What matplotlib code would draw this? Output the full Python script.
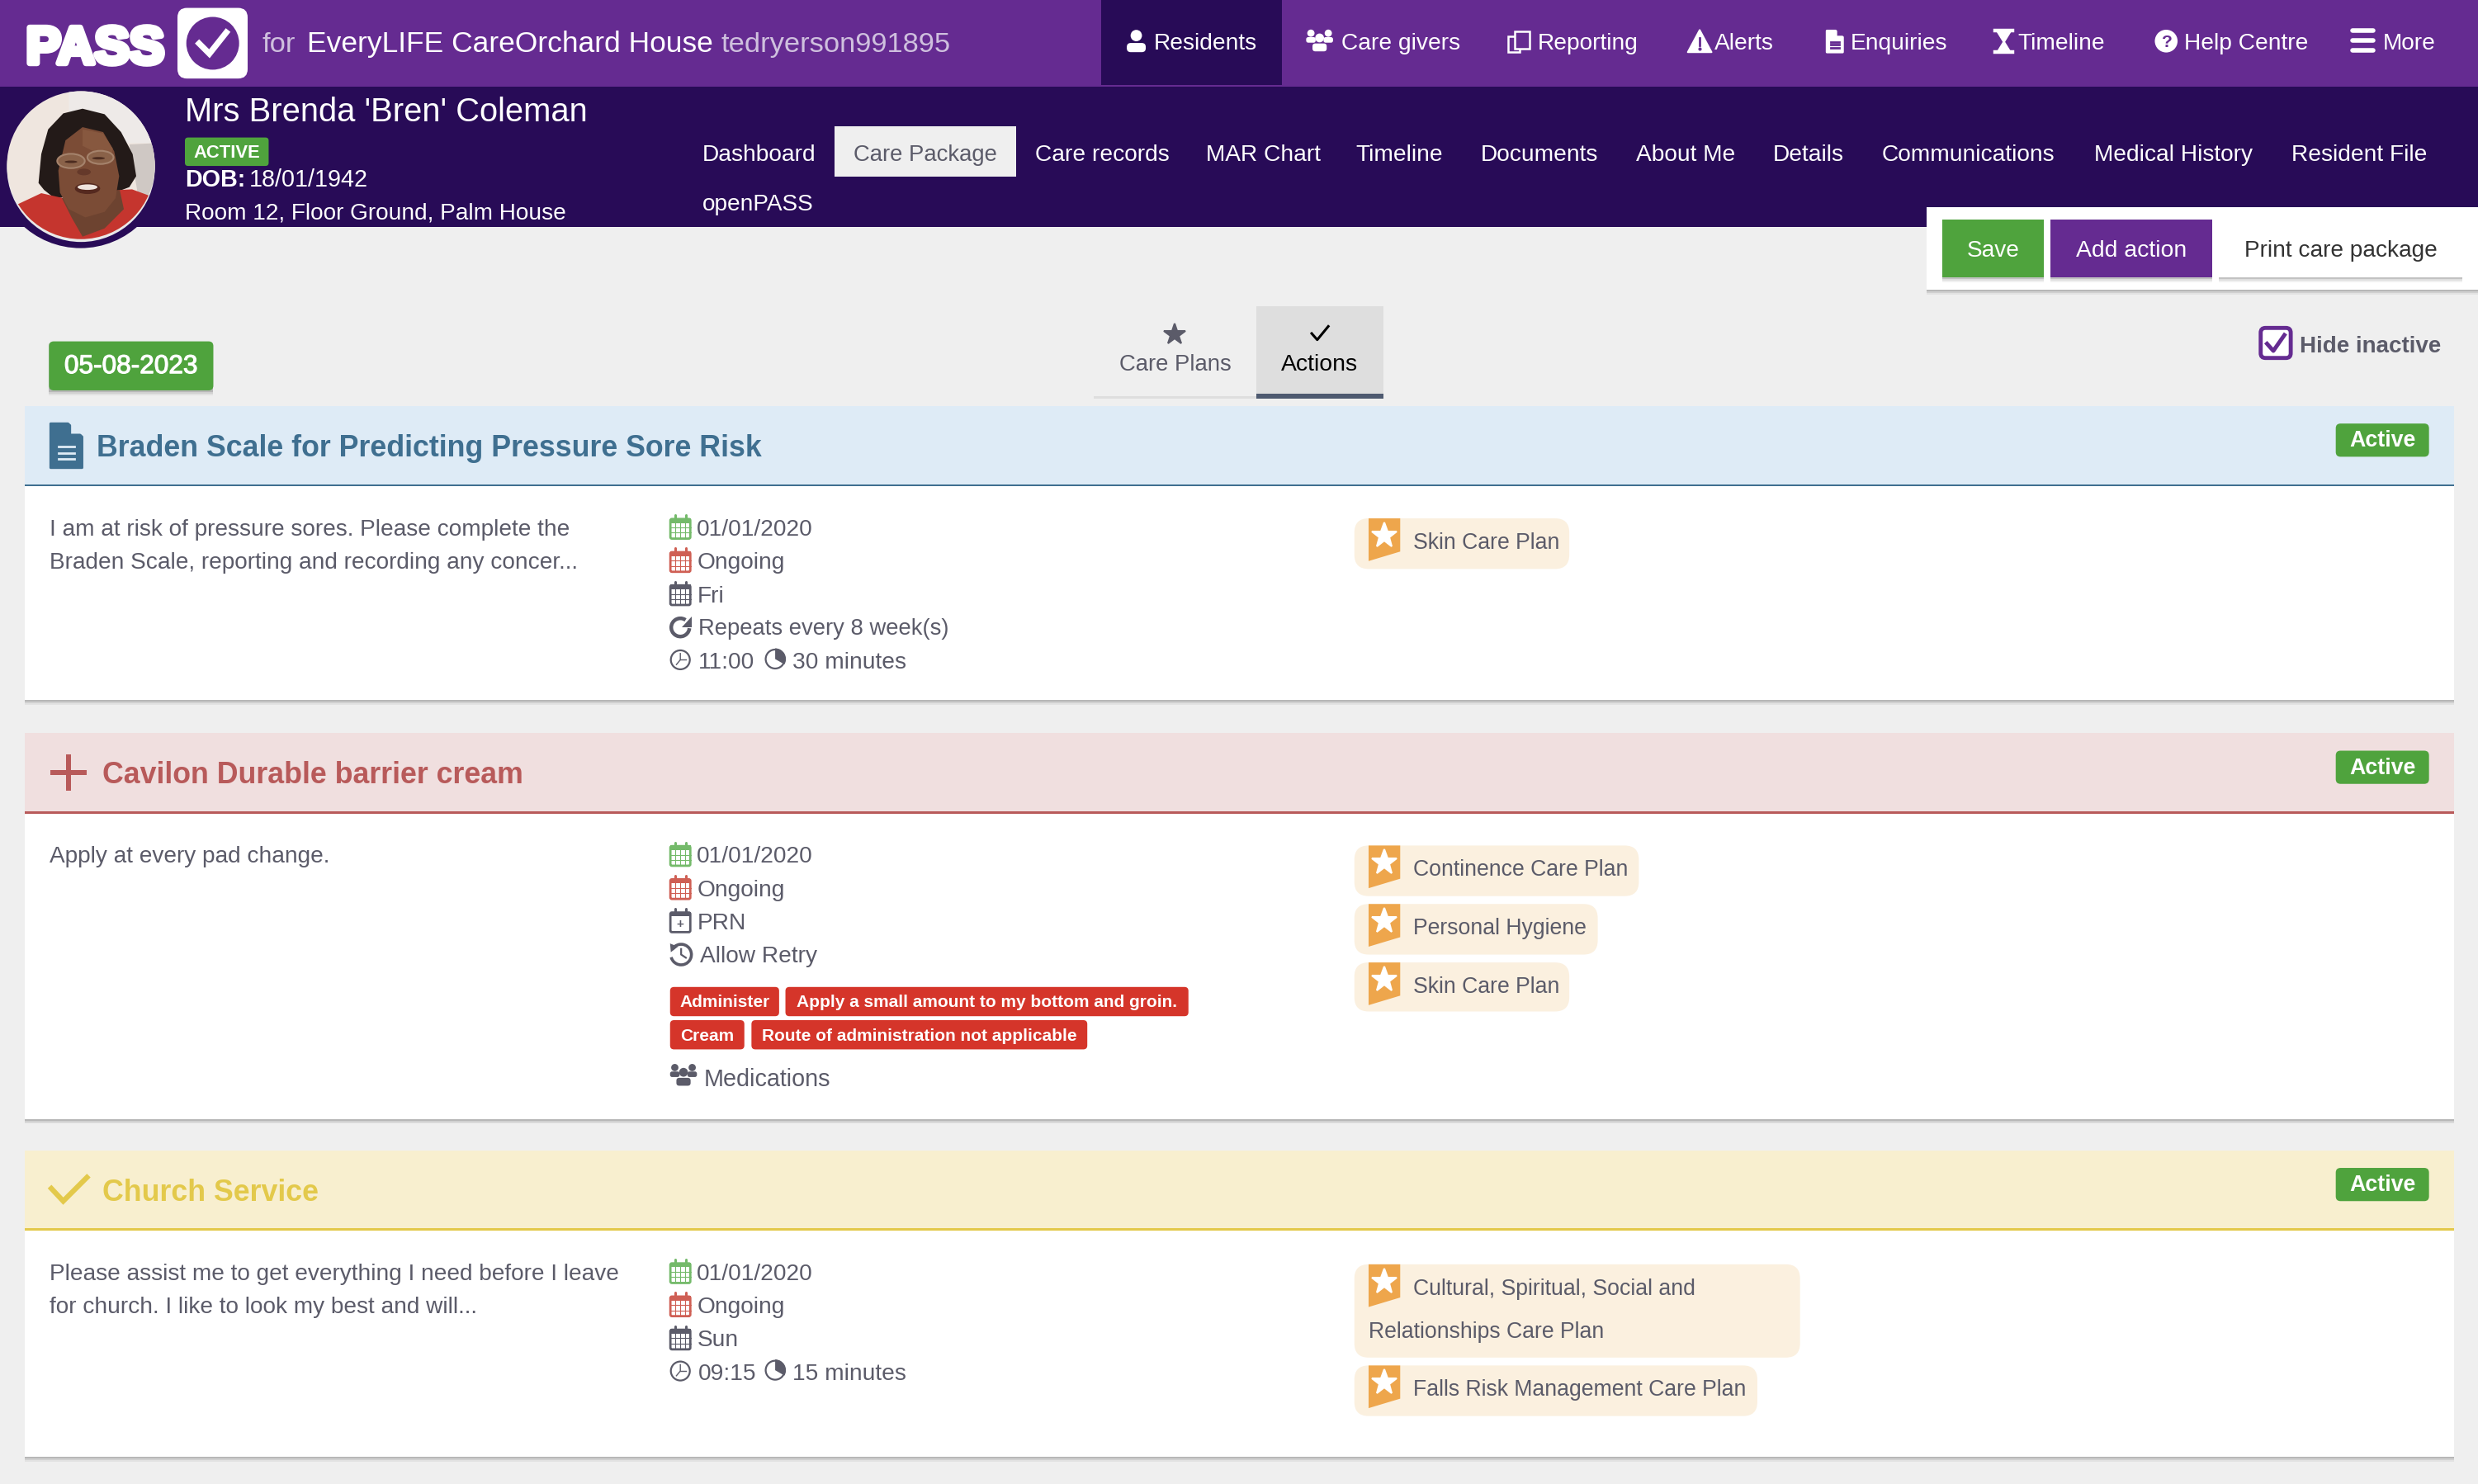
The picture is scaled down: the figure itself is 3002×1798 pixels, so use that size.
import matplotlib
matplotlib.use("Agg")
import matplotlib.pyplot as plt
from matplotlib.patches import Rectangle, FancyBboxPatch, Circle, Ellipse, Polygon, Wedge, Arc
import matplotlib.patheffects as pe

plt.rcParams['font.family'] = ['Liberation Sans', 'DejaVu Sans']

W, H = 1568, 939
S = 3002 / 1568

PURPLE = '#652b91'
DARK = '#280b57'
BG = '#efefef'
GREEN = '#4fa33d'
GREY = '#5b5b69'
RED = '#d5352a'
ORANGE = '#eea64c'
CREAM = '#fbf0df'

top_labels = ['Residents', 'Care givers', 'Reporting', 'Alerts', 'Enquiries', 'Timeline', 'Help Centre', 'More']
top_x = [730, 849, 973, 1085, 1171, 1277, 1382, 1508]
sub_labels = ['Dashboard', 'Care Package', 'Care records', 'MAR Chart', 'Timeline', 'Documents',
              'About Me', 'Details', 'Communications', 'Medical History', 'Resident File']
sub_x = [444.5, 540, 655, 763, 858, 937, 1035, 1122, 1190.5, 1325, 1450]

card_titles = ['Braden Scale for Predicting Pressure Sore Risk', 'Cavilon Durable barrier cream', 'Church Service']
card_title_x = [61, 65, 65]
card_tops = [257, 464, 728]
card_bottoms = [443, 708, 922]
card_fills = ['#deebf6', '#f0dfdf', '#f8efcf']
card_inks = ['#3f6f90', '#b85a5a', '#e3c94b']

body_lines = [
    ['I am at risk of pressure sores. Please complete the', 'Braden Scale, reporting and recording any concer...'],
    ['Apply at every pad change.'],
    ['Please assist me to get everything I need before I leave', 'for church. I like to look my best and will...'],
]
meta_rows = [
    ['01/01/2020', 'Ongoing', 'Fri', 'Repeats every 8 week(s)', '11:00'],
    ['01/01/2020', 'Ongoing', 'PRN', 'Allow Retry'],
    ['01/01/2020', 'Ongoing', 'Sun', '09:15'],
]
durations = ['30 minutes', None, '15 minutes']

plan_labels = [
    [['Skin Care Plan']],
    [['Continence Care Plan'], ['Personal Hygiene'], ['Skin Care Plan']],
    [['Cultural, Spiritual, Social and', 'Relationships Care Plan'], ['Falls Risk Management Care Plan']],
]
plan_boxes = [
    [(857, 993, 328, 360)],
    [(857, 1037, 535, 567), (857, 1011, 572, 604), (857, 993, 609, 640)],
    [(857, 1139, 800, 859), (857, 1112, 864, 896)],
]
tag_labels = ['Administer', 'Apply a small amount to my bottom and groin.', 'Cream', 'Route of administration not applicable']
tag_boxes = [(424, 493, 624.5, 643), (497, 752, 624.5, 643), (424, 471, 645.5, 664), (475.5, 688, 645.5, 664)]

fig = plt.figure(figsize=(30.02, 17.98), dpi=100)
ax = fig.add_axes([0, 0, 1, 1])
ax.set_xlim(0, W)
ax.set_ylim(H, 0)
ax.axis('off')
fig.patch.set_facecolor(BG)


def txt(x, yc, s, px=14.65, color=GREY, weight='normal', ha='left', z=5, **kw):
    # yc is the middle of the capitals, in screen px
    return ax.text(x, yc + 0.36 * px - 0.3, s, fontsize=px * S * 0.72, color=color, fontweight=weight,
                   ha=ha, va='baseline', zorder=z, **kw)


def rect(x0, x1, y0, y1, color, z=1, **kw):
    ax.add_patch(Rectangle((x0, y0), x1 - x0, y1 - y0, facecolor=color, edgecolor='none', zorder=z, **kw))


def rrect(x0, x1, y0, y1, color, r=3, z=2, **kw):
    ax.add_patch(FancyBboxPatch((x0 + r, y0 + r), x1 - x0 - 2 * r, y1 - y0 - 2 * r,
                                boxstyle=f'round,pad={r},rounding_size={r}',
                                facecolor=color, edgecolor='none', zorder=z, **kw))


def shadow(x0, x1, y0, y1, z=1):
    for off, a in [(3, 0.08), (2, 0.12), (1, 0.2)]:
        rect(x0, x1, y0 + off, y1 + off, '#555555', z=z, alpha=a)


def calendar(x, yc, color, grid=True):
    ax.add_patch(FancyBboxPatch((x + 0.5, yc - 4.8), 12, 11.8, boxstyle='round,pad=0.3,rounding_size=1',
                                facecolor='white', edgecolor=color, linewidth=2, zorder=4))
    rect(x, x + 13, yc - 5.5, yc - 2.6, color, z=4)
    ax.plot([x + 3.2, x + 3.2], [yc - 7.5, yc - 4.5], color=color, lw=2.2, zorder=4, solid_capstyle='round')
    ax.plot([x + 9.8, x + 9.8], [yc - 7.5, yc - 4.5], color=color, lw=2.2, zorder=4, solid_capstyle='round')
    if grid:
        for i in range(1, 4):
            ax.plot([x + i * 3.25] * 2, [yc - 3, yc + 7], color=color, lw=0.8, zorder=4)
        for j in range(1, 3):
            ax.plot([x, x + 13], [yc - 3 + j * 3.3] * 2, color=color, lw=0.8, zorder=4)


def clock(x, yc, filled=False):
    if filled:
        ax.add_patch(Circle((x, yc), 6, facecolor='white', edgecolor=GREY, linewidth=1.6, zorder=4))
        ax.add_patch(Wedge((x, yc), 6.8, -90, 30, facecolor=GREY, edgecolor='none', zorder=4))
    else:
        ax.add_patch(Circle((x, yc), 6, facecolor='white', edgecolor=GREY, linewidth=1.6, zorder=4))
        ax.plot([x, x, x - 2.5], [yc - 4, yc, yc + 3], color=GREY, lw=1, zorder=4)
        ax.plot([x, x + 3.5], [yc, yc], color=GREY, lw=1, zorder=4)


def star(x, yc, size, color, z=6):
    ax.plot([x], [yc], marker='*', markersize=size * S, color=color, markeredgecolor=color,
            markeredgewidth=1.5, linestyle='none', zorder=z)


def people(x, yc, color):
    # three heads with shoulders
    for dx, dy, r in [(-5.5, -4.5, 2.3), (5.5, -4.5, 2.3), (0, -1.5, 2.8)]:
        ax.add_patch(Circle((x + dx, yc + dy), r, facecolor=color, edgecolor='none', zorder=6))
    rrect(x - 8.5, x - 2.5, yc - 2, yc + 1.5, color, r=1.3, z=6)
    rrect(x + 2.5, x + 8.5, yc - 2, yc + 1.5, color, r=1.3, z=6)
    rrect(x - 4.5, x + 4.5, yc + 2, yc + 7, color, r=1.8, z=6)


def person(x, yc, color):
    ax.add_patch(Circle((x, yc - 3.5), 3.6, facecolor=color, edgecolor='none', zorder=6))
    rrect(x - 6, x + 6, yc + 1.2, yc + 7, color, r=2.5, z=6)


def doc(x0, x1, y0, y1, color, inner):
    w = x1 - x0
    h = y1 - y0
    ax.add_patch(Polygon([(x0, y0), (x0 + w * 0.55, y0), (x1, y0 + h * 0.3), (x1, y1), (x0, y1)],
                         closed=True, facecolor=color, edgecolor=color, linewidth=2, joinstyle='round', zorder=6))
    ax.add_patch(Polygon([(x0 + w * 0.65, y0 - 0.5), (x1 + 0.5, y0 + h * 0.23), (x0 + w * 0.65, y0 + h * 0.23)],
                         closed=True, facecolor=inner, edgecolor='none', zorder=6))
    for k in (0.52, 0.66, 0.8):
        ax.plot([x0 + w * 0.25, x0 + w * 0.75], [y0 + h * k] * 2, color=inner, lw=2, zorder=7)


def avatar():
    k = 1 / 5.743
    clip = Circle((51.2, 104.5), 46.8, transform=ax.transData)

    def poly(points, color, z=3):
        p = Polygon([(a * k, b * k) for a, b in points], closed=True, facecolor=color, edgecolor='none', zorder=z)
        ax.add_patch(p)
        p.set_clip_path(clip)

    def oval(a, b, wd, ht, color, z=3, edge='none', lw=0, angle=0):
        p = Ellipse((a * k, b * k), wd * k, ht * k, angle=angle, facecolor=color, edgecolor=edge, linewidth=lw, zorder=z)
        ax.add_patch(p)
        p.set_clip_path(clip)

    # ring sits under the bars, so only its lower edge shows
    ax.add_patch(Circle((51, 102.8), 54.2, facecolor=DARK, edgecolor='none', zorder=0.5))
    ax.add_patch(Circle((51.2, 106.3), 46.8, facecolor='#e9e9e9', edgecolor='none', zorder=2.5))
    ax.add_patch(Circle((51.2, 104.5), 46.8, facecolor='#efe6df', edgecolor='none', zorder=2.6))
    poly([(250, 330), (560, 330), (570, 520), (250, 520)], '#eeeae8')
    poly([(470, 525), (570, 520), (570, 720), (500, 700)], '#cfc8c4')
    # hair
    poly([(140, 665), (150, 560), (175, 470), (230, 412), (300, 395), (380, 415), (440, 480), (482, 560), (495, 640),
          (470, 680), (430, 695), (330, 700), (200, 722), (160, 690)], '#231a18')
    # shirt
    poly([(40, 790), (65, 742), (150, 702), (230, 720), (440, 690), (480, 688), (545, 712), (520, 790), (430, 870),
          (160, 870)], '#c5352e')
    # neck and chest
    poly([(225, 720), (435, 690), (450, 760), (380, 830), (300, 860), (260, 790)], '#6d4330')
    # face
    poly([(212, 620), (238, 510), (300, 462), (375, 480), (415, 550), (433, 640), (420, 720), (380, 770), (310, 790),
          (250, 760), (218, 700)], '#7b4c36')
    poly([(300, 470), (375, 485), (410, 540), (400, 580), (300, 530)], '#87583f')
    # glasses, nose, mouth
    oval(258, 585, 100, 52, '#8a6249', edge='#a5836c', lw=1.5)
    oval(365, 572, 95, 48, '#8a6249', edge='#a5836c', lw=1.5)
    oval(258, 588, 46, 9, '#4c2c20')
    oval(358, 575, 46, 9, '#4c2c20')
    oval(305, 625, 50, 24, '#65392a')
    oval(318, 685, 92, 40, '#55291f')
    oval(318, 680, 72, 20, '#efe5de')


# ---- top bars
rect(0, W, 0, 55, PURPLE)
rect(0, W, 55, 143.6, DARK)
rect(697, 811, 0, 54, DARK, z=2)

rrect(112.3, 156.7, 5, 49.7, 'white', r=6)
ax.add_patch(Circle((134.6, 27.4), 16.7, facecolor=PURPLE, edgecolor='none', zorder=3))
ax.plot([126, 132.5, 143.2], [27.5, 34, 20.5], color='white', lw=5.2, solid_joinstyle='miter', zorder=4)
txt(16.5, 28.5, 'PASS', 33, 'white', 'bold', path_effects=[pe.withStroke(linewidth=5, foreground='white')])
txt(166, 26.5, 'for', 18, '#cfc0de')
txt(194.5, 26.5, 'EveryLIFE CareOrchard House', 18.5, 'white')
txt(456, 26.5, 'tedryerson991895', 18, '#cfc0de')

for label, x in zip(top_labels, top_x):
    txt(x, 26.5, label, 14.7, 'white')

# nav icons
person(719, 26, 'white')
people(835, 25.5, 'white')
ax.add_patch(Rectangle((958.5, 20), 9.5, 11, facecolor=PURPLE, edgecolor='white', linewidth=1.8, zorder=6))
ax.add_patch(Rectangle((954.5, 23), 7, 10, facecolor=PURPLE, edgecolor='white', linewidth=1.8, zorder=5))
ax.add_patch(Polygon([(1075.5, 19), (1083, 33), (1068, 33)], closed=True, facecolor='white', edgecolor='white',
                     linewidth=1.5, joinstyle='round', zorder=6))
ax.plot([1075.5, 1075.5], [24, 28.5], color=PURPLE, lw=2, zorder=7)
ax.plot([1075.5], [30.8], marker='o', markersize=2, color=PURPLE, zorder=7)
doc(1156, 1166, 19.5, 33, 'white', PURPLE)
ax.add_patch(Polygon([(1264, 20), (1272, 20), (1264, 33), (1272, 33)], closed=True, facecolor='white',
                     edgecolor='white', linewidth=1.8, zorder=6))
for yy in (19.5, 33):
    ax.plot([1262.5, 1273.5], [yy, yy], color='white', lw=3.2, zorder=6)
ax.add_patch(Circle((1370.7, 26), 7.2, facecolor='white', edgecolor='none', zorder=6))
txt(1370.7, 26, '?', 11, PURPLE, 'bold', ha='center', z=7)
for yy in (19.5, 25.7, 31.8):
    ax.plot([1488.5, 1501.5], [yy, yy], color='white', lw=4, solid_capstyle='round', zorder=6)

# ---- resident header
avatar()
txt(117, 69.5, "Mrs Brenda 'Bren' Coleman", 20.8, 'white')
rrect(117, 170, 87, 105, GREEN, r=2)
txt(143.5, 96, 'ACTIVE', 11.5, 'white', 'bold', ha='center')
txt(117, 113, 'DOB:', 15, 'white', 'bold')
txt(157.5, 113, '18/01/1942', 15, 'white')
txt(117, 133.5, 'Room 12, Floor Ground, Palm House', 14.6, 'white')

rect(528, 643, 80, 112, BG, z=2)
for label, x in zip(sub_labels, sub_x):
    if label == 'Care Package':
        txt(x, 97, label, 14.35, GREY)
    else:
        txt(x, 97, label, 14.7, 'white')
txt(444.5, 128, 'openPASS', 14.6, 'white')

# ---- action panel
shadow(1219, 1568, 131, 183.5, z=2)
rect(1219, 1568, 131, 183.5, 'white', z=3)
for x0, x1, col in [(1229, 1293, GREEN), (1297.5, 1400, PURPLE), (1404, 1558, 'white')]:
    shadow(x0, x1, 139, 175.5, z=3)
    rect(x0, x1, 139, 175.5, col, z=4)
txt(1261, 157.5, 'Save', 14.6, 'white', ha='center')
txt(1348.5, 157.5, 'Add action', 14.8, 'white', ha='center')
txt(1481, 157.5, 'Print care package', 14.6, '#333333', ha='center')

# ---- date + tabs
shadow(31, 135, 216, 247, z=1)
rrect(31, 135, 216, 247, GREEN, r=3)
txt(83, 230.5, '05-08-2023', 16.5, 'white', ha='center', path_effects=[pe.withStroke(linewidth=0.8, foreground='white')])
rect(692, 795, 250.5, 252, '#dedede', z=1)
rect(795, 875.5, 194, 250, '#dedede', z=1)
rect(795, 875.5, 249, 252, '#4e5a70', z=2)
star(743.5, 211.5, 10, GREY)
ax.plot([830, 833.5, 840.5], [211, 215, 206.5], color='black', lw=2.2, zorder=5)
txt(743.5, 229.5, 'Care Plans', 14.4, GREY, ha='center')
txt(835, 229.5, 'Actions', 14.8, 'black', ha='center')
ax.add_patch(FancyBboxPatch((1432, 209), 16, 16, boxstyle='round,pad=1.5,rounding_size=3', facecolor='white',
                            edgecolor=PURPLE, linewidth=3.5, zorder=4))
ax.plot([1434.5, 1438.5, 1445.5], [217.5, 222, 212], color=PURPLE, lw=3.5, zorder=5)
txt(1455, 218, 'Hide inactive', 14.5, GREY, 'bold')

# ---- cards
for i, title in enumerate(card_titles):
    top, bottom = card_tops[i], card_bottoms[i]
    shadow(15.5, 1553, top, bottom, z=1)
    rect(15.5, 1553, top, bottom, 'white', z=2)
    rect(15.5, 1553, top, top + 50, card_fills[i], z=3)
    rect(15.5, 1553, top + 49.3, top + 50.8, card_inks[i], z=3)
    txt(card_title_x[i], top + 25.3, title, 18.7, card_inks[i], 'bold')
    rrect(1478, 1537, top + 11, top + 32, GREEN, r=3, z=4)
    txt(1507.5, top + 21, 'Active', 14, 'white', 'bold', ha='center')

    y0 = top + 77
    for k, line in enumerate(body_lines[i]):
        txt(31.3, y0 + k * 21, line)

    for k, row in enumerate(meta_rows[i]):
        yc = y0 + k * 21
        if k == 0:
            calendar(424, yc - 0.5, '#74ba6a')
        elif k == 1:
            calendar(424, yc - 0.5, '#cf5f54')
        elif row == 'PRN':
            calendar(424, yc - 0.5, GREY, grid=False)
            txt(430.5, yc + 1.5, '+', 8, GREY, 'bold', ha='center')
        elif row in ('Fri', 'Sun'):
            calendar(424, yc - 0.5, GREY)
        elif row.startswith('Repeats'):
            ax.add_patch(Arc((430.5, yc), 11.5, 11.5, theta1=5, theta2=305, edgecolor=GREY, linewidth=3.2, zorder=4))
            ax.add_patch(Polygon([(437.5, yc - 7), (437.5, yc), (431.5, yc)], closed=True, facecolor=GREY,
                                 edgecolor='none', zorder=4))
        elif row == 'Allow Retry':
            ax.add_patch(Arc((431, yc), 13, 13, theta1=-150, theta2=165, edgecolor=GREY, linewidth=2.6, zorder=4))
            ax.plot([431, 431, 434], [yc - 3.5, yc, yc + 2], color=GREY, lw=1.6, zorder=4)
            ax.add_patch(Polygon([(424, yc - 7), (429, yc - 5), (424.5, yc - 1.5)], closed=True, facecolor=GREY,
                                 edgecolor='none', zorder=4))
        else:
            clock(430.5, yc - 0.5)
        if row.startswith('Repeats') or row == 'Allow Retry' or ':' in row:
            tx = 443 if row == 'Allow Retry' else 442
        else:
            tx = 441
        txt(tx, yc, row, 14.3 if row.startswith('Repeats') else 14.7)
        if ':' in row and durations[i]:
            clock(490.5, yc - 1, filled=True)
            txt(501.5, yc, durations[i], 14.7)

    for lines, (x0, x1, y_a, y_b) in zip(plan_labels[i], plan_boxes[i]):
        rrect(x0, x1, y_a, y_b, CREAM, r=9, z=3)
        ax.add_patch(Polygon([(866, y_a), (886, y_a), (886, y_a + 21), (866, y_a + 27)], closed=True, facecolor=ORANGE,
                             edgecolor='none', zorder=4))
        star(876, y_a + 11, 12, 'white')
        txt(894, y_a + 14.5, lines[0], 13.9)
        if len(lines) > 1:
            txt(866, y_a + 42, lines[1], 13.9)

# ---- tags on the barrier cream card
for label, (x0, x1, y_a, y_b) in zip(tag_labels, tag_boxes):
    rrect(x0, x1, y_a, y_b, RED, r=2.5, z=3)
    txt((x0 + x1) / 2, (y_a + y_b) / 2, label, 10.9, 'white', 'bold', ha='center')
people(432.5, 680, GREY)
txt(445.5, 682, 'Medications', 15)

# ---- header icons on cards
doc(32, 52, 268, 296, card_inks[0], card_fills[0])
rect(32, 55, 487.5, 490.5, card_inks[1], z=6)
rect(42, 45, 477.5, 500.5, card_inks[1], z=6)
ax.plot([32.5, 40, 55], [752, 760, 745], color=card_inks[2], lw=4.5, solid_joinstyle='miter', zorder=6)

fig.savefig('out.png', dpi=100, facecolor=BG)
